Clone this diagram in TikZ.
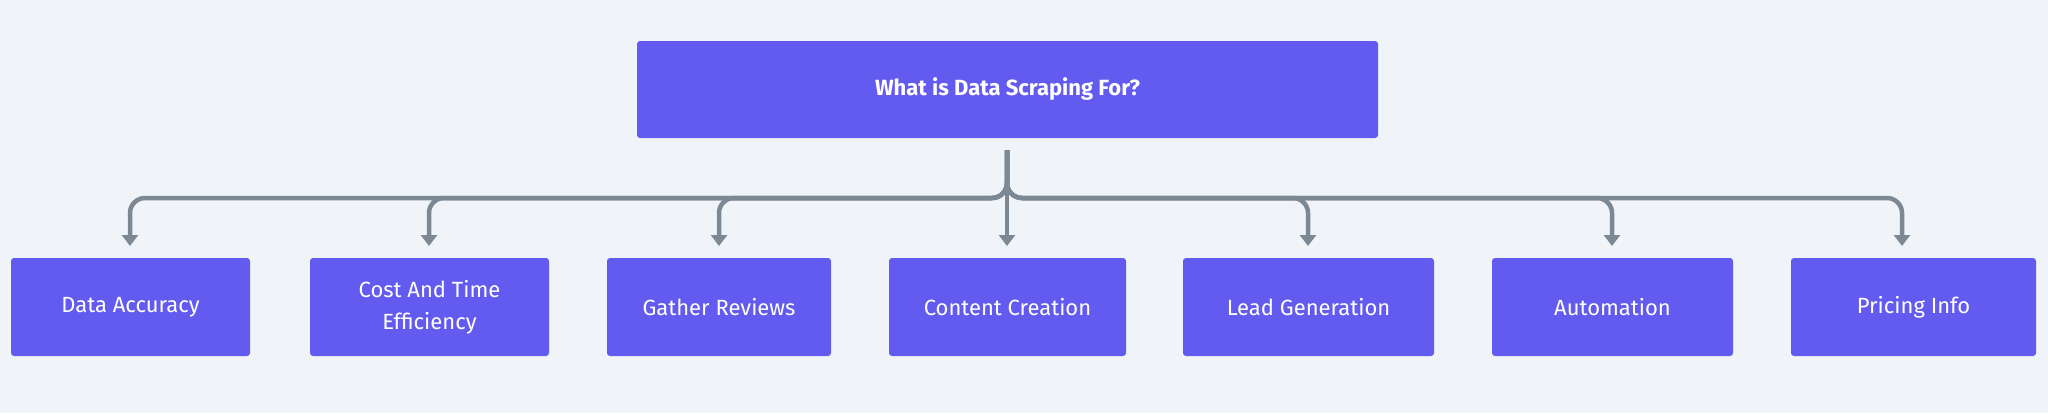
\documentclass[tikz,border=0pt]{standalone}
\usepackage{fontspec}
\setmainfont{Fira Sans}
\usetikzlibrary{arrows.meta}
\definecolor{bg}{HTML}{F0F4F8}
\definecolor{boxc}{HTML}{635BEF}
\definecolor{linec}{HTML}{7C8894}
\tikzset{
  box/.style={draw=none,fill=boxc,rounded corners=3pt,text=white,font=\fontsize{22}{27}\selectfont\bfseries,align=center,inner sep=0pt},
  conn/.style={draw=linec,line width=4.5pt,rounded corners=15pt,-{Triangle[length=11pt,width=16pt]}}
}
\begin{document}
\begin{tikzpicture}[x=1pt,y=-1pt]
\fill[bg] (0,0) rectangle (2048,413);
\useasboundingbox (0,0) rectangle (2048,413);
\node[box,minimum width=741pt,minimum height=97pt] (top) at (1007.5,89.5) {What is Data Scraping For?};
\coordinate (s) at (1007,150);
\foreach \n/\l/\r/\t/\ax in {a/11/250/Data Accuracy/130, b/310/549/{Cost And Time\\Efficiency}/429, c/607/831/Gather Reviews/719, d/889/1126/Content Creation/1007, e/1183/1434/Lead Generation/1308, f/1492/1733/Automation/1612, g/1791/2036/Pricing Info/1902}{
  \node[box,font=\fontsize{22}{32}\selectfont,minimum width={\r-\l},minimum height=98pt] (\n) at ({(\l+\r)/2},307) {\t};
  \coordinate (t\n) at (\ax,246);
  \draw[conn] (s) -- (1007,198) -- (\ax,198) -- (t\n);
}
\end{tikzpicture}
\end{document}
